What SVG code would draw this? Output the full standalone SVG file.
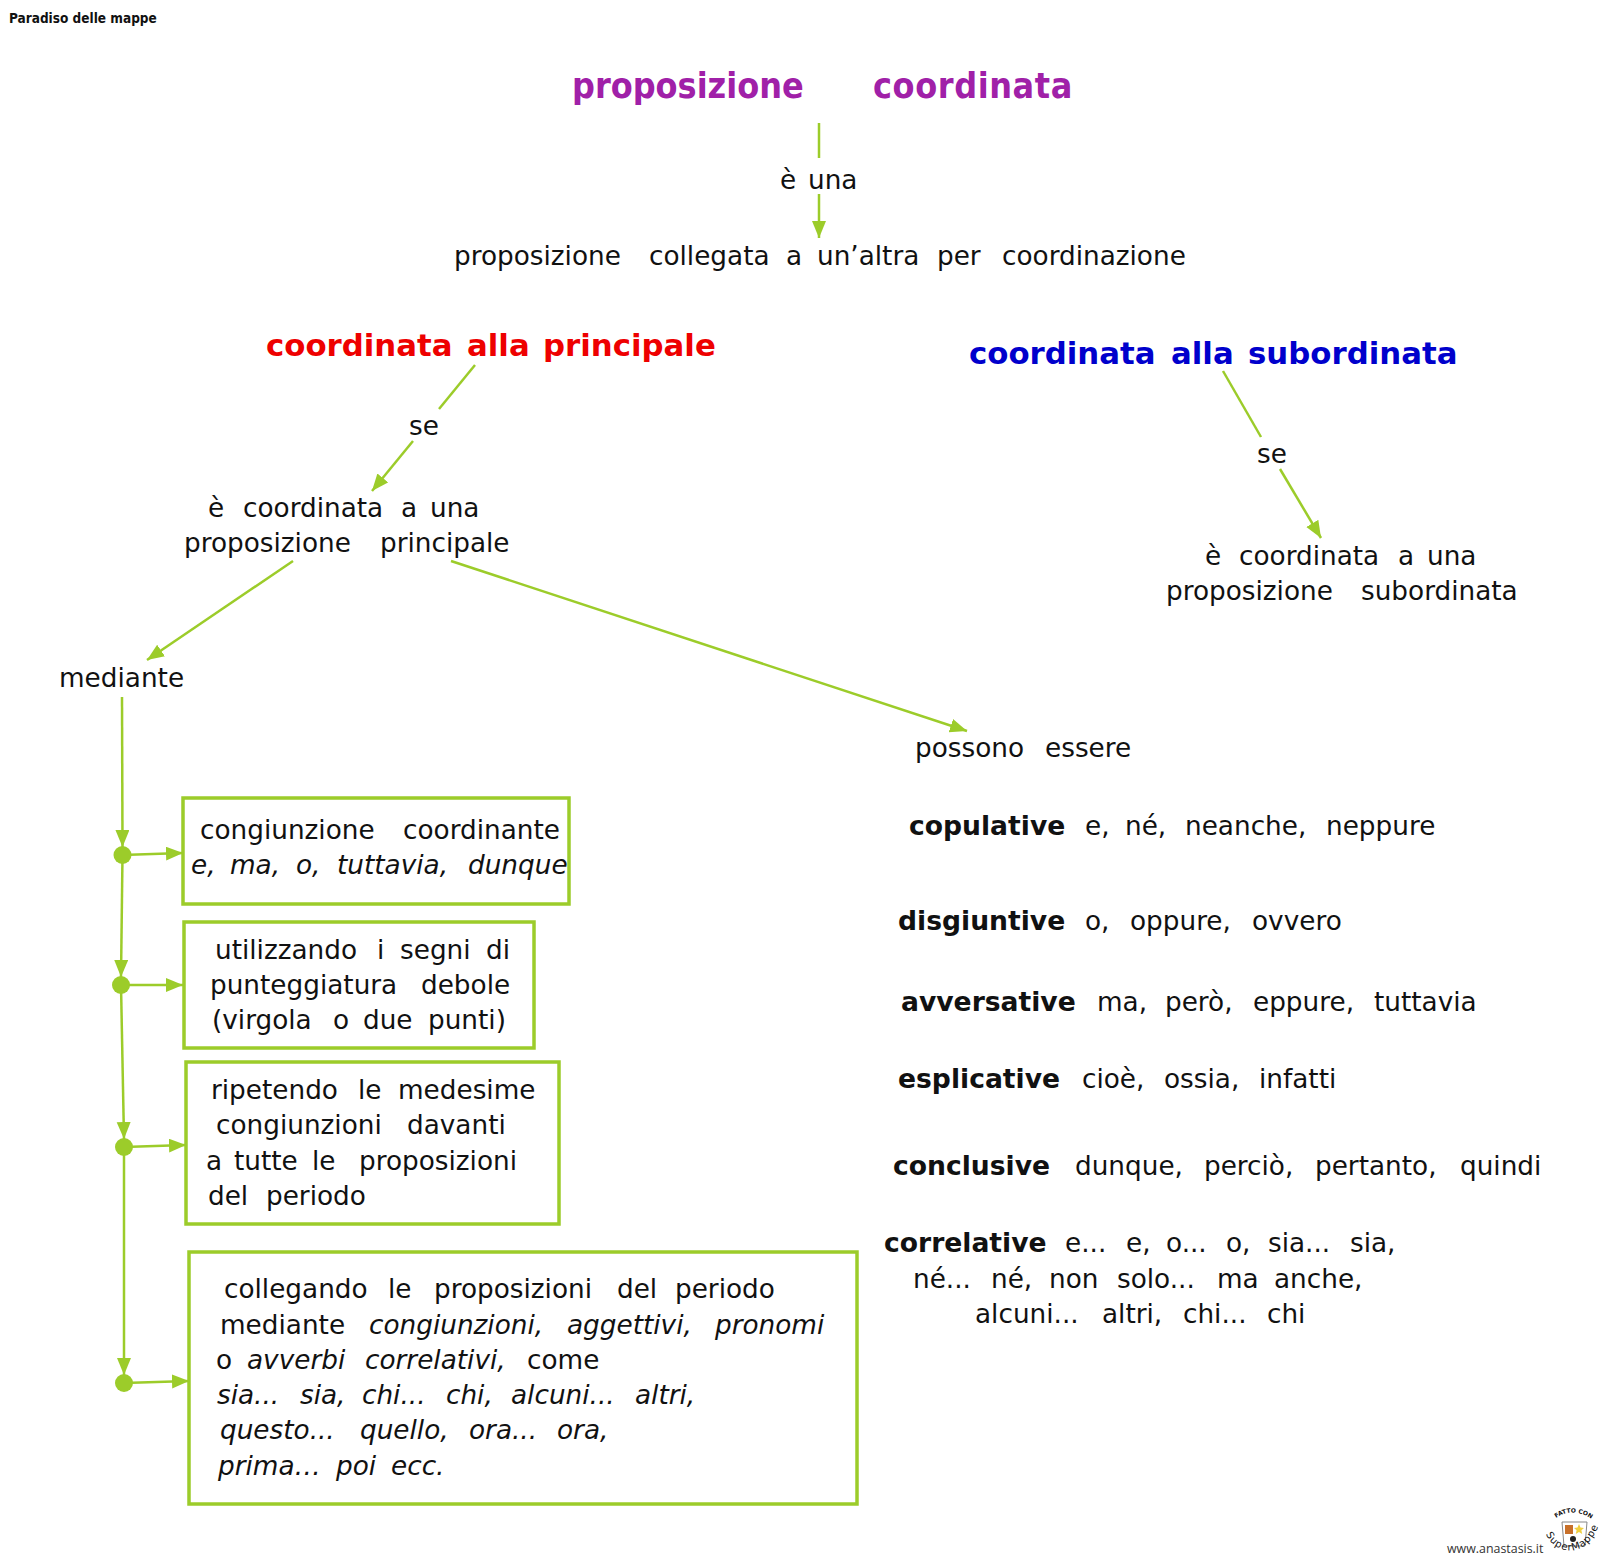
<svg xmlns="http://www.w3.org/2000/svg" width="1600" height="1557" viewBox="0 0 1600 1557">
<style>
text{font-family:"DejaVu Sans",Verdana,sans-serif;font-size:26.3px;fill:#111}
.b{font-weight:700;font-size:26.6px}
.i{font-style:italic}
.h{font-weight:700;font-size:30.8px}
.t{font-family:"DejaVu Sans Condensed","DejaVu Sans",sans-serif;font-weight:700;font-size:35.6px;fill:#a020a8}
.w{font-family:"DejaVu Sans Condensed","DejaVu Sans",sans-serif;font-size:13.5px;font-weight:700}
.box{fill:#fff;stroke:#9ccc2a;stroke-width:3.5}
.c{fill:none;stroke:#9ccc2a;stroke-width:2.5}
.a{marker-end:url(#arr)}
.d{fill:#9ccc2a}
</style>
<defs>
<marker id="arr" markerUnits="userSpaceOnUse" markerWidth="18" markerHeight="16" refX="17" refY="7" orient="auto"><path d="M0 0L17 7L0 14Z" fill="#9ccc2a"/></marker>
<path id="arcTop" d="M1556 1518Q1572 1507 1590 1518"/>
<path id="arcBot" d="M1546 1534C1552 1552 1584 1562 1598 1527"/>
</defs>
<rect width="1600" height="1557" fill="#fff"/>
<g id="connectors">
<path class="c" d="M819 123V158"/>
<path class="c a" d="M819 194V238"/>
<path class="c" d="M475 365L439 409"/>
<path class="c a" d="M413 441L372 491"/>
<path class="c" d="M1223 371L1261 437"/>
<path class="c a" d="M1280 469L1321 538"/>
<path class="c a" d="M293 561L147 660"/>
<path class="c a" d="M451 561L967 731"/>
<path class="c a" d="M122 697L122.500 847"/>
<path class="c a" d="M122.500 855L121 977"/>
<path class="c a" d="M121 985L124 1139"/>
<path class="c a" d="M124 1147V1375"/>
<path class="c a" d="M122 855L183 853"/>
<path class="c a" d="M121 985H183"/>
<path class="c a" d="M124 1147L186 1145"/>
<path class="c a" d="M124 1383L189 1381"/>
<circle class="d" cx="122.500" cy="855" r="9"/>
<circle class="d" cx="121" cy="985" r="9"/>
<circle class="d" cx="124" cy="1147" r="9"/>
<circle class="d" cx="124" cy="1383" r="9"/>
</g>
<g id="watermark"><text class="w" x="9" y="23">Paradiso delle mappe</text></g>
<g id="title"><text class="t" y="98"><tspan x="572">proposizione</tspan> <tspan x="873" letter-spacing="0.6">coordinata</tspan></text></g>
<g id="label-e-una"><text y="189"><tspan x="780">è</tspan> <tspan x="808">una</tspan></text></g>
<g id="definition"><text y="265"><tspan x="454">proposizione</tspan> <tspan x="649">collegata</tspan> <tspan x="786">a</tspan> <tspan x="817">un’altra</tspan> <tspan x="937">per</tspan> <tspan x="1002">coordinazione</tspan></text></g>
<g id="principale"><text class="h" y="356" style="fill:#ee0000"><tspan x="266">coordinata</tspan> <tspan x="467">alla</tspan> <tspan x="543">principale</tspan></text></g>
<g id="subordinata"><text class="h" y="364" style="fill:#0000cc"><tspan x="969">coordinata</tspan> <tspan x="1171">alla</tspan> <tspan x="1248">subordinata</tspan></text></g>
<g id="label-se-1"><text x="409" y="435">se</text></g>
<g id="label-se-2"><text x="1257" y="463">se</text></g>
<g id="coord-principale"><text y="517"><tspan x="208">è</tspan> <tspan x="243">coordinata</tspan> <tspan x="401">a</tspan> <tspan x="430">una</tspan></text><text y="552"><tspan x="184">proposizione</tspan> <tspan x="380">principale</tspan></text></g>
<g id="coord-subordinata"><text y="565"><tspan x="1205">è</tspan> <tspan x="1239">coordinata</tspan> <tspan x="1398">a</tspan> <tspan x="1427">una</tspan></text><text y="600"><tspan x="1166">proposizione</tspan> <tspan x="1361">subordinata</tspan></text></g>
<g id="mediante"><text x="59" y="687">mediante</text></g>
<g id="possono"><text y="757"><tspan x="915">possono</tspan> <tspan x="1045">essere</tspan></text></g>
<g id="box-1"><rect class="box" x="183" y="798" width="386" height="106"/><text y="839"><tspan x="200">congiunzione</tspan> <tspan x="403">coordinante</tspan></text><text class="i" y="874"><tspan x="191">e,</tspan> <tspan x="230">ma,</tspan> <tspan x="296">o,</tspan> <tspan x="337">tuttavia,</tspan> <tspan x="468">dunque</tspan></text></g>
<g id="box-2"><rect class="box" x="184" y="922" width="350" height="126"/><text y="959"><tspan x="215">utilizzando</tspan> <tspan x="377">i</tspan> <tspan x="400">segni</tspan> <tspan x="486">di</tspan></text><text y="994"><tspan x="210">punteggiatura</tspan> <tspan x="421">debole</tspan></text><text y="1029"><tspan x="212">(virgola</tspan> <tspan x="333">o</tspan> <tspan x="363">due</tspan> <tspan x="428">punti)</tspan></text></g>
<g id="box-3"><rect class="box" x="186" y="1062" width="373" height="162"/><text y="1099"><tspan x="211">ripetendo</tspan> <tspan x="358">le</tspan> <tspan x="398">medesime</tspan></text><text y="1134"><tspan x="216">congiunzioni</tspan> <tspan x="407">davanti</tspan></text><text y="1170"><tspan x="206">a</tspan> <tspan x="234">tutte</tspan> <tspan x="312">le</tspan> <tspan x="359">proposizioni</tspan></text><text y="1205"><tspan x="208">del</tspan> <tspan x="266">periodo</tspan></text></g>
<g id="box-4"><rect class="box" x="189" y="1252" width="668" height="252"/><text y="1298"><tspan x="224">collegando</tspan> <tspan x="388">le</tspan> <tspan x="434">proposizioni</tspan> <tspan x="617">del</tspan> <tspan x="675">periodo</tspan></text><text y="1334"><tspan x="220">mediante</tspan> <tspan class="i" x="369">congiunzioni,</tspan> <tspan class="i" x="567">aggettivi,</tspan> <tspan class="i" x="715">pronomi</tspan></text><text y="1369"><tspan x="216">o</tspan> <tspan class="i" x="247">avverbi</tspan> <tspan class="i" x="365">correlativi,</tspan> <tspan x="527">come</tspan></text><text class="i" y="1404"><tspan x="217">sia...</tspan> <tspan x="300">sia,</tspan> <tspan x="362">chi...</tspan> <tspan x="446">chi,</tspan> <tspan x="511">alcuni...</tspan> <tspan x="635">altri,</tspan></text><text class="i" y="1439"><tspan x="220">questo...</tspan> <tspan x="360">quello,</tspan> <tspan x="469">ora...</tspan> <tspan x="557">ora,</tspan></text><text class="i" y="1475"><tspan x="218">prima…</tspan> <tspan x="336">poi</tspan> <tspan x="391">ecc.</tspan></text></g>
<g id="copulative"><text y="835"><tspan class="b" x="909">copulative</tspan> <tspan x="1085">e,</tspan> <tspan x="1125">né,</tspan> <tspan x="1185">neanche,</tspan> <tspan x="1326">neppure</tspan></text></g>
<g id="disgiuntive"><text y="930"><tspan class="b" x="898">disgiuntive</tspan> <tspan x="1085">o,</tspan> <tspan x="1130">oppure,</tspan> <tspan x="1252">ovvero</tspan></text></g>
<g id="avversative"><text y="1011"><tspan class="b" x="901">avversative</tspan> <tspan x="1097">ma,</tspan> <tspan x="1165">però,</tspan> <tspan x="1253">eppure,</tspan> <tspan x="1374">tuttavia</tspan></text></g>
<g id="esplicative"><text y="1088"><tspan class="b" x="898">esplicative</tspan> <tspan x="1082">cioè,</tspan> <tspan x="1164">ossia,</tspan> <tspan x="1259">infatti</tspan></text></g>
<g id="conclusive"><text y="1175"><tspan class="b" x="893">conclusive</tspan> <tspan x="1075">dunque,</tspan> <tspan x="1204">perciò,</tspan> <tspan x="1315">pertanto,</tspan> <tspan x="1460">quindi</tspan></text></g>
<g id="correlative"><text y="1252"><tspan class="b" x="884">correlative</tspan> <tspan x="1065">e...</tspan> <tspan x="1126">e,</tspan> <tspan x="1166">o...</tspan> <tspan x="1226">o,</tspan> <tspan x="1268">sia...</tspan> <tspan x="1350">sia,</tspan></text><text y="1288"><tspan x="913">né...</tspan> <tspan x="991">né,</tspan> <tspan x="1049">non</tspan> <tspan x="1117">solo...</tspan> <tspan x="1217">ma</tspan> <tspan x="1274">anche,</tspan></text><text y="1323"><tspan x="975">alcuni...</tspan> <tspan x="1102">altri,</tspan> <tspan x="1183">chi...</tspan> <tspan x="1267">chi</tspan></text></g>
<g id="credit"><text x="1447" y="1553" style="font-family:'Open Sans',sans-serif;font-size:12.4px;fill:#333">www.anastasis.it</text>
<path d="M1562 1522H1587L1585 1546H1564Z" fill="#fff" stroke="#888"/>
<rect x="1565" y="1525" width="8" height="9" fill="#c8702a"/><path d="M1579 1524l1.500 3.500 3.500.4-2.600 2.400.8 3.600-3.200-1.900-3.200 1.900.8-3.600-2.600-2.400 3.500-.4Z" fill="#f0d040"/><circle cx="1573" cy="1539" r="3" fill="#222"/>
<text style="font-size:6px;font-weight:700"><textPath href="#arcTop">FATTO CON</textPath></text>
<text style="font-size:10px;letter-spacing:0.8px"><textPath href="#arcBot">SuperMappe</textPath></text></g>
</svg>
